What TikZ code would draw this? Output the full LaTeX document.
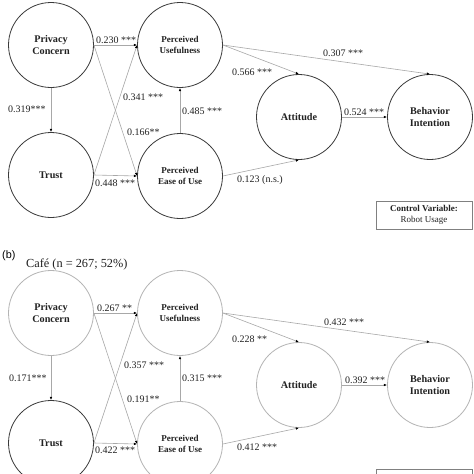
\documentclass[tikz,border=0pt]{standalone}
\usepackage{fontspec}
\setmainfont{Liberation Serif}
\newfontfamily\arialfont{Liberation Sans}
\usetikzlibrary{arrows.meta}
\definecolor{dkline}{HTML}{3A3A3A}
\definecolor{ltline}{HTML}{B4B4B4}
\definecolor{edgegray}{HTML}{A8A8A8}
\definecolor{txtgray}{HTML}{222222}
\tikzset{
  latent/.style={circle, draw=dkline, line width=0.8pt, minimum size=85pt, inner sep=0pt, align=center, text=txtgray},
  latentlt/.style={latent, draw=ltline},
  bigtxt/.style={font=\fontsize{10.2}{12.2}\selectfont\bfseries},
  smalltxt/.style={font=\fontsize{9}{11}\selectfont\bfseries},
  arr/.style={draw=edgegray, line width=0.6pt, -{Latex[length=3.2pt,width=2.6pt,color=black]}},
  coef/.style={anchor=west, inner sep=0pt, text=txtgray, font=\fontsize{10}{12}\selectfont},
  ctrlbox/.style={draw=gray, line width=0.8pt, minimum width=96pt, minimum height=28pt, inner sep=0pt, align=center, text=txtgray, font=\fontsize{9}{10.5}\selectfont}
}
\begin{document}
\begin{tikzpicture}[x=1pt,y=-1pt]
\clip (0,0) rectangle (474,474);
\fill[white] (0,0) rectangle (474,474);

% ---------- panel (a) ----------
\node[latent,bigtxt] (pc) at (51,45) {Privacy\\Concern};
\node[latent,smalltxt] (pu) at (180,45) {Perceived\\Usefulness};
\node[latent,bigtxt] (tr) at (51,175) {Trust};
\node[latent,smalltxt] (peu) at (180,176) {Perceived\\Ease of Use};
\node[latent,bigtxt] (att) at (299,117) {Attitude};
\node[latent,bigtxt] (bi) at (430,117) {Behavior\\Intention};

\draw[arr] (pc.east) -- (pu.west);
\draw[arr] (pc.east) -- (peu.west);
\draw[arr] (tr.east) -- (pu.west);
\draw[arr] (tr.east) -- (peu.west);
\draw[arr] (pc.south) -- (tr.north);
\draw[arr] (peu.north) -- (pu.south);
\draw[arr] (pu.east) -- (att.north);
\draw[arr] (pu.east) -- (bi.north);
\draw[arr] (att.east) -- (bi.west);
\draw[arr] (peu.east) -- (att.south);

\node[coef] (a1) at (96,40) {0.230 ***};
\node[coef] (a2) at (8,109) {0.319***};
\node[coef] (a3) at (123,97) {0.341 ***};
\node[coef] (a4) at (127,132) {0.166**};
\node[coef] (a5) at (182,111) {0.485 ***};
\node[coef] (a6) at (95,183) {0.448 ***};
\node[coef] (a7) at (232,72) {0.566 ***};
\node[coef] (a8) at (323,53) {0.307 ***};
\node[coef] (a9) at (344,112) {0.524 ***};
\node[coef] (a10) at (237,180) {0.123 (n.s.)};

\node[ctrlbox] (ctrla) at (424,215) {\textbf{Control Variable:}\\Robot Usage};

% ---------- panel (b) ----------
\node[anchor=west, inner sep=0pt, font=\arialfont\fontsize{10.8}{13}\selectfont] (blabel) at (2,256) {(b)};
\node[anchor=west, inner sep=0pt, text=txtgray, font=\fontsize{12.3}{14}\selectfont] (cafe) at (26,264) {Café (n = 267; 52\%)};

\node[latentlt,bigtxt] (pcb) at (51,313) {Privacy\\Concern};
\node[latentlt,smalltxt] (pub) at (180,313) {Perceived\\Usefulness};
\node[latent,bigtxt] (trb) at (51,443) {Trust};
\node[latentlt,smalltxt] (peub) at (180,444) {Perceived\\Ease of Use};
\node[latentlt,bigtxt] (attb) at (299,385) {Attitude};
\node[latentlt,bigtxt] (bib) at (430,385) {Behavior\\Intention};

\draw[arr] (pcb.east) -- (pub.west);
\draw[arr] (pcb.east) -- (peub.west);
\draw[arr] (trb.east) -- (pub.west);
\draw[arr] (trb.east) -- (peub.west);
\draw[arr] (pcb.south) -- (trb.north);
\draw[arr] (peub.north) -- (pub.south);
\draw[arr] (pub.east) -- (attb.north);
\draw[arr] (pub.east) -- (bib.north);
\draw[arr] (attb.east) -- (bib.west);
\draw[arr] (peub.east) -- (attb.south);

\node[coef] (b1) at (97,308) {0.267 **};
\node[coef] (b2) at (9,378) {0.171***};
\node[coef] (b3) at (124,365) {0.357 ***};
\node[coef] (b4) at (127,399) {0.191**};
\node[coef] (b5) at (182,378) {0.315 ***};
\node[coef] (b6) at (95,450) {0.422 ***};
\node[coef] (b7) at (232,339) {0.228 **};
\node[coef] (b8) at (324,322) {0.432 ***};
\node[coef] (b9) at (345,380) {0.392 ***};
\node[coef] (b10) at (237,447) {0.412 ***};

\node[ctrlbox, anchor=north] (ctrlb) at (424,469) {};
\end{tikzpicture}
\end{document}
